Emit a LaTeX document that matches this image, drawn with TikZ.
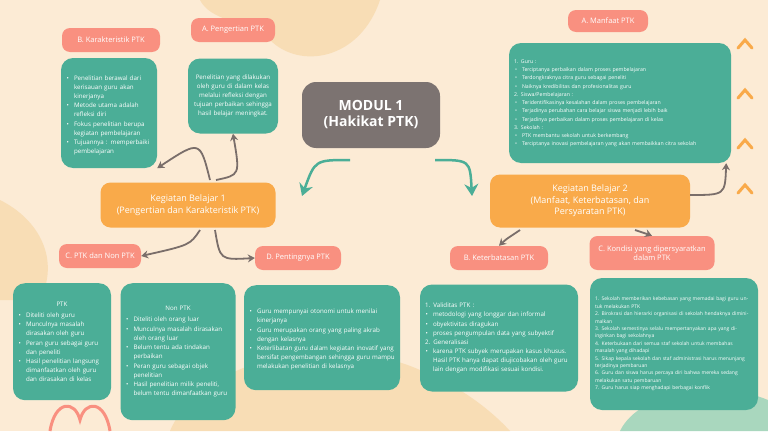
\documentclass[tikz,border=0pt]{standalone}
\usepackage{fontspec}
\setmainfont{Open Sans}
\usepackage{enumitem}
\setlist[itemize]{leftmargin=8pt,itemsep=0.5pt,topsep=0pt,parsep=0pt,label=\textbullet}
\usetikzlibrary{arrows.meta}
\definecolor{bg}{HTML}{FCEBD5}
\definecolor{blob}{HTML}{F8DDB5}
\definecolor{teal}{HTML}{4BAE97}
\definecolor{salmon}{HTML}{F99080}
\definecolor{orng}{HTML}{F9AA4A}
\definecolor{greyb}{HTML}{7C7371}
\definecolor{arr}{HTML}{7A6E6A}
\definecolor{mint}{HTML}{A9D7BE}
\tikzset{
 lab/.style={fill=salmon,rounded corners=8pt,text=white,font=\fontsize{7.5}{9}\selectfont,inner sep=3pt,align=center},
 box/.style={fill=teal,rounded corners=12pt,text=white,font=\fontsize{6.2}{9}\selectfont,inner sep=5pt,align=left},
 keg/.style={fill=orng,rounded corners=10pt,text=white,font=\fontsize{9}{11.5}\selectfont,align=center,inner sep=4pt},
 ga/.style={-{Stealth[length=7pt,width=8pt]},draw=arr,line width=1.8pt},
 ta/.style={-{Stealth[length=12pt,width=14pt]},draw=teal,line width=2.5pt}
}
\begin{document}
\begin{tikzpicture}[x=1pt,y=-1pt]
\fill[bg] (0,0) rectangle (768,431);
\useasboundingbox (0,0) rectangle (768,431);
% background blobs
\fill[blob] (200,0) -- (380,0) .. controls (360,60) and (300,70) .. (270,40) .. controls (240,20) and (210,20) .. (200,0);
\fill[blob] (170,431) .. controls (200,360) and (330,330) .. (420,370) .. controls (470,390) and (500,420) .. (510,431) -- cycle;
\fill[blob] (0,200) .. controls (40,220) and (60,260) .. (40,300) -- (0,300) -- cycle;
\fill[mint] (620,431) .. controls (640,390) and (720,380) .. (768,400) -- (768,431) -- cycle;
\foreach \yy in {40,90,140,185} \draw[orng,line width=3pt,line cap=round] (738,\yy+8) -- (745,\yy) -- (752,\yy+8);
\draw[salmon,line width=3pt] (50,431) .. controls (55,400) and (75,400) .. (80,420) .. controls (85,400) and (105,400) .. (110,431);
% nodes
\node[lab,minimum width=98pt,minimum height=24pt] (lb) at (111,40) {B. Karakteristik PTK};
\node[lab,minimum width=84pt,minimum height=24pt] (la) at (233,30) {A. Pengertian PTK};
\node[box,text width=86pt,minimum height=110pt] (kb) at (109,113) {\begin{itemize}
\item Penelitian berawal dari kerisauan guru akan kinerjanya
\item Metode utama adalah refleksi diri
\item Fokus penelitian berupa kegiatan pembelajaran
\item Tujuannya : memperbaiki pembelajaran\end{itemize}};
\node[box,text width=80pt,minimum height=75pt,align=center] (pb) at (233,96) {Penelitian yang dilakukan oleh guru di dalam kelas melalui refleksi dengan tujuan perbaikan sehingga hasil belajar meningkat.};
\node[fill=greyb,rounded corners=14pt,text=white,font=\fontsize{14}{16}\selectfont\bfseries,align=center,minimum width=138pt,minimum height=66pt] (m) at (371,115) {MODUL 1\\(Hakikat PTK)};
\node[keg,minimum width=175pt,minimum height=45pt] (k1) at (188,205) {Kegiatan Belajar 1\\(Pengertian dan Karakteristik PTK)};
\node[keg,minimum width=200pt,minimum height=53pt] (k2) at (590,201) {Kegiatan Belajar 2\\(Manfaat, Keterbatasan, dan\\Persyaratan PTK)};
\node[lab,minimum width=82pt,minimum height=24pt] (lc) at (100,256) {C. PTK dan Non PTK};
\node[lab,minimum width=86pt,minimum height=24pt] (ld) at (298,258) {D. Pentingnya PTK};
\node[box,text width=88pt,minimum height=117pt,anchor=north] (ptk) at (62,283) {\centering PTK\par\begin{itemize}
\item Diteliti oleh guru
\item Munculnya masalah dirasakan oleh guru
\item Peran guru sebagai guru dan peneliti
\item Hasil penelitian langsung dimanfaatkan oleh guru dan dirasakan di kelas\end{itemize}};
\node[box,text width=105pt,minimum height=137pt,anchor=north] (nptk) at (178,283) {\centering Non PTK\par\begin{itemize}
\item Diteliti oleh orang luar
\item Munculnya masalah dirasakan oleh orang luar
\item Belum tentu ada tindakan perbaikan
\item Peran guru sebagai objek penelitian
\item Hasil penelitian milik peneliti, belum tentu dimanfaatkan guru\end{itemize}};
\node[box,text width=146pt,minimum height=105pt,anchor=north] (pen) at (322,285) {\begin{itemize}
\item Guru mempunyai otonomi untuk menilai kinerjanya
\item Guru merupakan orang yang paling akrab dengan kelasnya
\item Keterlibatan guru dalam kegiatan inovatif yang bersifat pengembangan sehingga guru mampu melakukan penelitian di kelasnya\end{itemize}};
\node[lab,minimum width=80pt,minimum height=22pt] (lma) at (608,21) {A. Manfaat PTK};
\node[box,text width=212pt,minimum height=120pt,font=\fontsize{5.2}{8}\selectfont] (man) at (620,103) {1. Guru :\begin{itemize}
\item Terciptanya perbaikan dalam proses pembelajaran
\item Terdongkraknya citra guru sebagai peneliti
\item Naiknya kredibilitas dan profesionalitas guru\end{itemize}
2. Siswa/Pembelajaran :\begin{itemize}
\item Teridentifikasinya kesalahan dalam proses pembelajaran
\item Terjadinya perubahan cara belajar siswa menjadi lebih baik
\item Terjadinya perbaikan dalam proses pembelajaran di kelas\end{itemize}
3. Sekolah :\begin{itemize}
\item PTK membantu sekolah untuk berkembang
\item Terciptanya inovasi pembelajaran yang akan membaikkan citra sekolah\end{itemize}};
\node[lab,minimum width=98pt,minimum height=24pt] (lk) at (499,258) {B. Keterbatasan PTK};
\node[lab,minimum width=125pt,minimum height=34pt] (lko) at (652,253) {C. Kondisi yang dipersyaratkan\\dalam PTK};
\node[box,text width=148pt,minimum height=107pt] (ket) at (499,338) {1. Validitas PTK :\begin{itemize}
\item metodologi yang longgar dan informal
\item obyektivitas diragukan
\item proses pengumpulan data yang subyektif\end{itemize}
2. Generalisasi\begin{itemize}
\item karena PTK subyek merupakan kasus khusus. Hasil PTK hanya dapat diujicobakan oleh guru lain dengan modifikasi sesuai kondisi.\end{itemize}};
\node[box,text width=158pt,minimum height=132pt,font=\fontsize{5}{7.4}\selectfont] (kon) at (674,344) {1. Sekolah memberikan kebebasan yang memadai bagi guru untuk melakukan PTK\\
2. Birokrasi dan hierarki organisasi di sekolah hendaknya diminimalkan\\
3. Sekolah semestinya selalu mempertanyakan apa yang diinginkan bagi sekolahnya\\
4. Keterbukaan dari semua staf sekolah untuk membahas masalah yang dihadapi\\
5. Sikap kepala sekolah dan staf administrasi harus menunjang terjadinya pembaruan\\
6. Guru dan siswa harus percaya diri bahwa mereka sedang melakukan satu pembaruan\\
7. Guru harus siap menghadapi berbagai konflik};
% connectors
\coordinate (t1) at (350,160);
\coordinate (t1e) at (302,196);
\coordinate (t2) at (435,160);
\coordinate (t2e) at (472,196);
\coordinate (a1) at (210,180);
\coordinate (a2) at (216,180);
\coordinate (a3) at (200,230);
\coordinate (a4) at (215,230);
\coordinate (a5) at (690,195);
\coordinate (a6) at (520,230);
\coordinate (a7) at (635,230);
\draw[ta] (t1) .. controls (315,160) .. (t1e);
\draw[ta] (t2) .. controls (470,160) .. (t2e);
\draw[ga] (a1) .. controls (200,140) .. (kb.south east);
\draw[ga] (a2) .. controls (240,175) .. (pb.south);
\draw[ga] (a3) .. controls (190,245) .. (lc.east);
\draw[ga] (a4) .. controls (220,260) .. (ld.west);
\draw[ga] (a5) .. controls (725,195) .. ([xshift=-5pt]man.south east);
\draw[ga] (a6) .. controls (505,240) .. (lk.north);
\draw[ga] (a7) .. controls (650,235) .. (lko.north);
\end{tikzpicture}
\end{document}
